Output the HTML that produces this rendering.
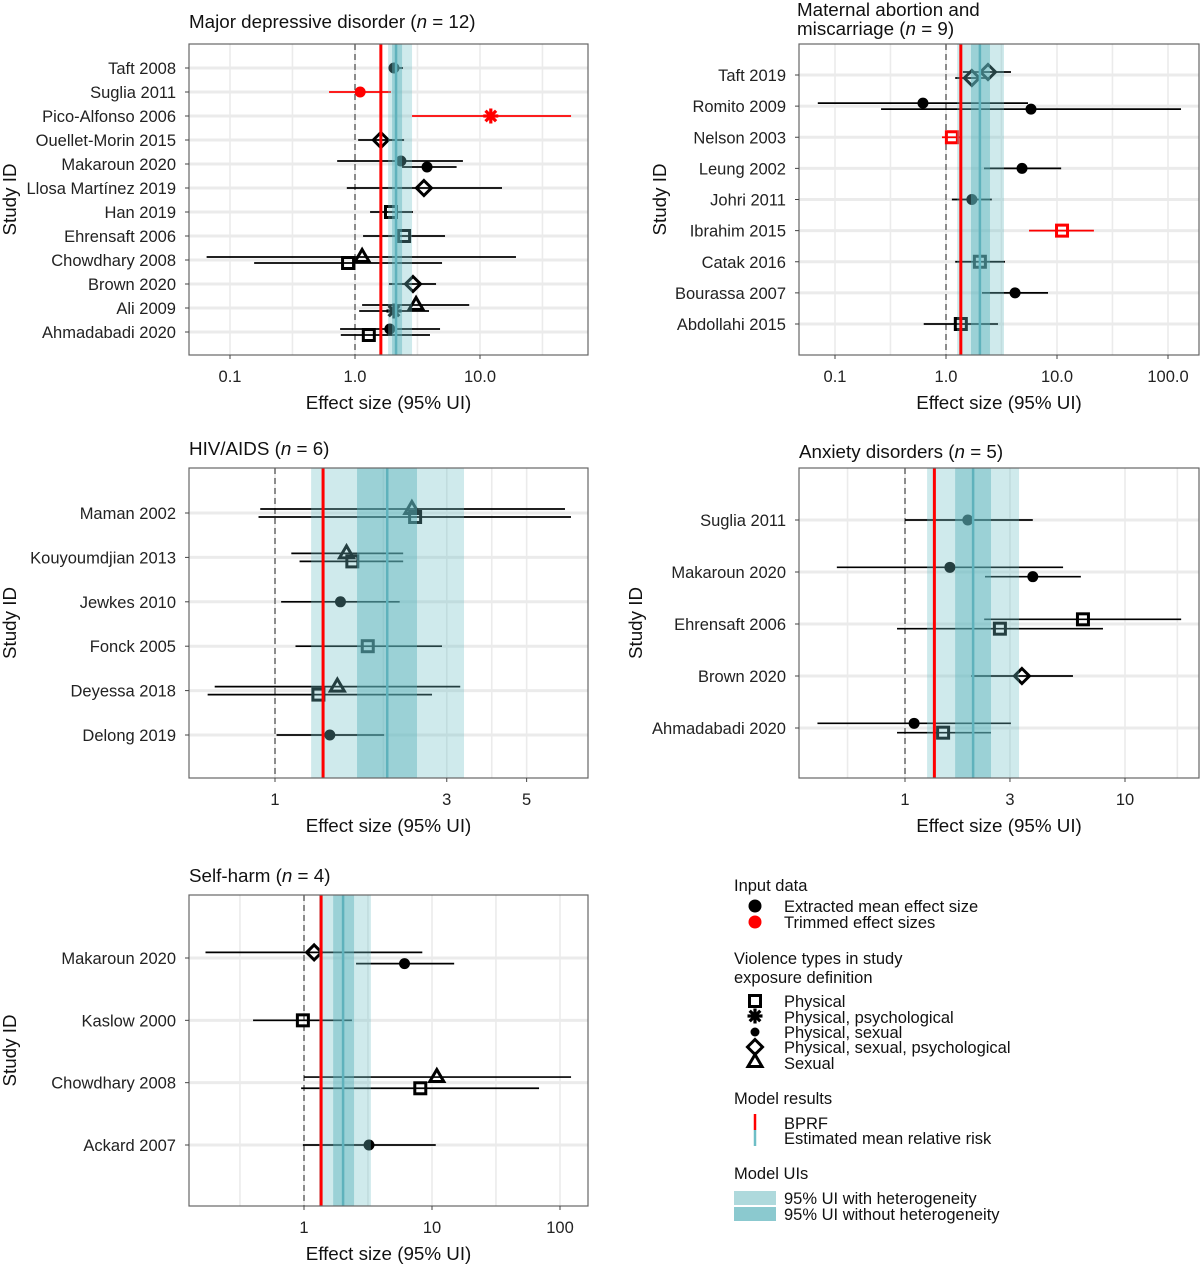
<!DOCTYPE html>
<html><head><meta charset="utf-8">
<style>
html,body{margin:0;padding:0;background:#fff;}
svg{display:block;font-family:"Liberation Sans","DejaVu Sans",sans-serif;}
</style></head>
<body>
<svg id="chart" width="1200" height="1265" viewBox="0 0 1200 1265" xmlns="http://www.w3.org/2000/svg"></svg>
<script>
// ---------- DATA ----------
// Major depressive disorder
const mddStudies = ["Taft 2008","Suglia 2011","Pico-Alfonso 2006","Ouellet-Morin 2015","Makaroun 2020","Llosa Martínez 2019","Han 2019","Ehrensaft 2006","Chowdhary 2008","Brown 2020","Ali 2009","Ahmadabadi 2020"];
const mddRow   = [0,1,2,3,4,4,5,6,7,8,8,9,10,10,11,11];
const mddEst   = [2.05,1.10,12.2,1.61,2.33,3.77,3.56,1.94,2.47,1.14,0.88,2.91,3.08,2.05,1.90,1.29];
const mddLo    = [1.87,0.62,2.86,1.06,0.72,2.38,0.86,1.32,1.16,0.065,0.156,1.87,1.14,1.08,0.76,0.77];
const mddHi    = [2.42,1.94,53.5,2.47,7.3,6.5,15.0,2.91,5.25,19.4,4.97,4.45,8.2,3.91,4.79,3.98];
const mddShape = ["circ","circ","ast","dia","circ","circ","dia","sq","sq","tri","sq","dia","tri","ast","circ","sq"];
const mddTrim  = [0,1,1,0,0,0,0,0,0,0,0,0,0,0,0,0];
const mddModel = [1.61,2.13,1.98,2.38,1.84,2.86]; // bprf, mean, UI w/o het lo/hi, UI with het lo/hi

// Maternal abortion and miscarriage
const matStudies = ["Taft 2019","Romito 2009","Nelson 2003","Leung 2002","Johri 2011","Ibrahim 2015","Catak 2016","Bourassa 2007","Abdollahi 2015"];
const matRow   = [0,0,1,1,2,3,4,5,6,7,8];
const matEst   = [2.39,1.71,0.62,5.83,1.13,4.84,1.71,11.1,2.02,4.19,1.36];
const matLo    = [1.42,1.21,0.070,0.26,0.92,2.20,1.13,5.6,1.21,2.11,0.63];
const matHi    = [3.85,2.34,5.48,131,1.39,10.9,2.59,21.5,3.40,8.3,2.94];
const matShape = ["dia","dia","circ","circ","sq","circ","circ","sq","sq","circ","sq"];
const matTrim  = [0,0,0,0,1,0,0,1,0,0,0];
const matModel = [1.36,2.02,1.68,2.49,1.26,3.33];

// HIV/AIDS
const hivStudies = ["Maman 2002","Kouyoumdjian 2013","Jewkes 2010","Fonck 2005","Deyessa 2018","Delong 2019"];
const hivRow   = [0,0,1,1,2,3,4,4,5];
const hivEst   = [2.40,2.45,1.58,1.64,1.52,1.81,1.49,1.32,1.42];
const hivLo    = [0.91,0.90,1.11,1.17,1.04,1.14,0.68,0.65,1.01];
const hivHi    = [6.39,6.64,2.27,2.27,2.22,2.91,3.27,2.73,2.01];
const hivShape = ["tri","sq","tri","sq","circ","sq","tri","sq","circ"];
const hivTrim  = [0,0,0,0,0,0,0,0,0];
const hivModel = [1.36,2.05,1.69,2.48,1.26,3.35];

// Anxiety disorders
const anxStudies = ["Suglia 2011","Makaroun 2020","Ehrensaft 2006","Brown 2020","Ahmadabadi 2020"];
const anxRow   = [0,1,1,2,2,3,4,4];
const anxEst   = [1.93,1.60,3.81,6.44,2.70,3.40,1.10,1.49];
const anxLo    = [1.00,0.49,2.31,2.29,0.92,2.00,0.40,0.92];
const anxHi    = [3.81,5.23,6.3,18.0,7.94,5.8,3.03,2.46];
const anxShape = ["circ","circ","circ","sq","sq","dia","circ","sq"];
const anxTrim  = [0,0,0,0,0,0,0,0];
const anxModel = [1.36,2.04,1.69,2.46,1.26,3.30];

// Self-harm
const shStudies = ["Makaroun 2020","Kaslow 2000","Chowdhary 2008","Ackard 2007"];
const shRow   = [0,0,1,2,2,3];
const shEst   = [1.20,6.1,0.98,10.9,8.1,3.22];
const shLo    = [0.17,2.55,0.40,1.00,0.95,0.98];
const shHi    = [8.4,14.9,2.37,122,68.6,10.7];
const shShape = ["dia","circ","sq","tri","sq","circ"];
const shTrim  = [0,0,0,0,0,0];
const shModel = [1.36,2.02,1.69,2.46,1.31,3.33];

// tick labels
const mddTicks = ["0.1","1.0","10.0"];
const matTicks = ["0.1","1.0","10.0","100.0"];
const hivTicks = ["1","3","5"];
const anxTicks = ["1","3","10"];
const shTicks  = ["1","10","100"];

// ---------- DRAWING ----------
const NS="http://www.w3.org/2000/svg";
const svg=document.getElementById('chart');
function el(tag,attrs,parent){const e=document.createElementNS(NS,tag);for(const k in attrs)e.setAttribute(k,attrs[k]);(parent||svg).appendChild(e);return e;}
const FS=16.5, TFS=18.8;

const panels=[
 {key:"mdd",studies:mddStudies,row:mddRow,est:mddEst,lo:mddLo,hi:mddHi,shape:mddShape,trim:mddTrim,model:mddModel,ticks:mddTicks,
  x0:189,x1:588,y0:44,y1:355,ref:355,ppd:125,r0:68,r1:332,grid:[0.1,0.316,1,3.16,10,31.6],
  title:[["Major depressive disorder (","n"," = 12)"]],tx:189,ty:28,sid:16},
 {key:"mat",studies:matStudies,row:matRow,est:matEst,lo:matLo,hi:matHi,shape:matShape,trim:matTrim,model:matModel,ticks:matTicks,
  x0:799,x1:1199,y0:44,y1:355,ref:946,ppd:111,r0:75,r1:324,grid:[0.1,0.316,1,3.16,10,31.6,100],
  title:[["Maternal abortion and"],["miscarriage (","n"," = 9)"]],tx:797,ty:16,sid:666},
 {key:"hiv",studies:hivStudies,row:hivRow,est:hivEst,lo:hivLo,hi:hivHi,shape:hivShape,trim:hivTrim,model:hivModel,ticks:hivTicks,
  x0:189,x1:588,y0:468,y1:778,ref:275,ppd:360,r0:513,r1:735,grid:[1,2,3,4,5],
  title:[["HIV/AIDS (","n"," = 6)"]],tx:189,ty:455,sid:16},
 {key:"anx",studies:anxStudies,row:anxRow,est:anxEst,lo:anxLo,hi:anxHi,shape:anxShape,trim:anxTrim,model:anxModel,ticks:anxTicks,
  x0:799,x1:1199,y0:468,y1:778,ref:905,ppd:220,r0:520,r1:728,grid:[0.548,1,3,10,17.3],
  title:[["Anxiety disorders (","n"," = 5)"]],tx:799,ty:458,sid:642},
 {key:"sh",studies:shStudies,row:shRow,est:shEst,lo:shLo,hi:shHi,shape:shShape,trim:shTrim,model:shModel,ticks:shTicks,
  x0:189,x1:588,y0:895,y1:1206,ref:304,ppd:128,r0:958,r1:1145,grid:[0.316,1,3.16,10,31.6,100],
  title:[["Self-harm (","n"," = 4)"]],tx:189,ty:882,sid:16}
];

function drawShape(g,shape,x,y,color,name){
  let e;
  if(shape==="circ"){e=el('circle',{cx:x,cy:y,r:5.5,fill:color},g);}
  else if(shape==="sq"){e=el('rect',{x:x-5.5,y:y-5.5,width:11,height:11,fill:"none",stroke:color,"stroke-width":3},g);}
  else if(shape==="dia"){e=el('polygon',{points:`${x},${y-7.5} ${x+7.5},${y} ${x},${y+7.5} ${x-7.5},${y}`,fill:"none",stroke:color,"stroke-width":3},g);}
  else if(shape==="tri"){e=el('polygon',{points:`${x},${y-7.5} ${x+7},${y+4.5} ${x-7},${y+4.5}`,fill:"none",stroke:color,"stroke-width":3},g);}
  else {e=el('g',{},g);for(let a=0;a<180;a+=45){const r=a*Math.PI/180;el('line',{x1:x-7.5*Math.cos(r),y1:y-7.5*Math.sin(r),x2:x+7.5*Math.cos(r),y2:y+7.5*Math.sin(r),stroke:color,"stroke-width":3.2},e);}}
  
  
  return e;
}

panels.forEach(p=>{
  const xs=v=>p.ref+Math.log10(v)*p.ppd;
  const n=p.studies.length;
  const step=n>1?(p.r1-p.r0)/(n-1):0;
  const ys=i=>p.r0+i*step;
  const g=el('g',{});
  
  
  const clipId='clip-'+p.key;
  const cp=el('clipPath',{id:clipId},g);el('rect',{x:p.x0,y:p.y0,width:p.x1-p.x0,height:p.y1-p.y0},cp);
  p.grid.forEach(v=>{const l=el('line',{x1:xs(v),x2:xs(v),y1:p.y0,y2:p.y1,stroke:"#ebebeb","stroke-width":1.6},g);
    });
  p.studies.forEach((s,i)=>{const l=el('line',{x1:p.x0,x2:p.x1,y1:ys(i),y2:ys(i),stroke:"#ebebeb","stroke-width":3},g);
    });
  const nl=el('line',{x1:xs(1),x2:xs(1),y1:p.y0,y2:p.y1,stroke:"#555","stroke-width":1.3,"stroke-dasharray":"6,4"},g);
  
  const pg=el('g',{"clip-path":`url(#${clipId})`},g);
  const cnt={},seen={};
  p.row.forEach(r=>cnt[r]=(cnt[r]||0)+1);
  const off=Math.max(3,step*0.09);
  p.est.forEach((v,k)=>{
    const r=p.row[k];seen[r]=(seen[r]||0)+1;
    let dy=0;if(cnt[r]>1)dy=(seen[r]===1?-off:off);
    const y=ys(r)+dy;
    const col=p.trim[k]?"#ff0000":"#000";
    const ci=el('line',{x1:xs(p.lo[k]),x2:xs(p.hi[k]),y1:y,y2:y,stroke:col,"stroke-width":1.7},pg);
    
    drawShape(pg,p.shape[k],xs(v),y,col,'study-estimate');
  });
  const m=p.model;
  const lb=el('rect',{x:xs(m[4]),y:p.y0,width:xs(m[5])-xs(m[4]),height:p.y1-p.y0,fill:"rgb(110,190,198)","fill-opacity":0.33},g);
  
  const db=el('rect',{x:xs(m[2]),y:p.y0,width:xs(m[3])-xs(m[2]),height:p.y1-p.y0,fill:"rgb(90,180,188)","fill-opacity":0.45},g);
  
  const ml=el('line',{x1:xs(m[1]),x2:xs(m[1]),y1:p.y0,y2:p.y1,stroke:"rgb(95,178,188)","stroke-width":2.5},g);
  
  const bl=el('line',{x1:xs(m[0]),x2:xs(m[0]),y1:p.y0,y2:p.y1,stroke:"#ff0000","stroke-width":3},g);
  
  const fr=el('rect',{x:p.x0,y:p.y0,width:p.x1-p.x0,height:p.y1-p.y0,fill:"none",stroke:"#666","stroke-width":1.2},g);
  
  p.studies.forEach((s,i)=>{
    el('line',{x1:p.x0-4,x2:p.x0,y1:ys(i),y2:ys(i),stroke:"#444","stroke-width":1},g);
    const t=el('text',{x:p.x0-13,y:ys(i)+6,"text-anchor":"end","font-size":FS,fill:"#222"},g);t.textContent=s;
    
  });
  p.ticks.forEach(tl=>{const v=parseFloat(tl);const x=xs(v);
    el('line',{x1:x,x2:x,y1:p.y1,y2:p.y1+4,stroke:"#444","stroke-width":1},g);
    const t=el('text',{x:x,y:p.y1+27,"text-anchor":"middle","font-size":FS,fill:"#222"},g);t.textContent=tl;
    });
  const at=el('text',{x:(p.x0+p.x1)/2,y:p.y1+54,"text-anchor":"middle","font-size":TFS,fill:"#111"},g);at.textContent="Effect size (95% UI)";
  
  const yc=(p.y0+p.y1)/2;
  const yt=el('text',{x:p.sid,y:yc,"text-anchor":"middle","font-size":TFS,fill:"#111",transform:`rotate(-90 ${p.sid} ${yc})`},g);yt.textContent="Study ID";
  
  p.title.forEach((parts,li)=>{
    const t=el('text',{x:p.tx,y:p.ty+li*19,"font-size":TFS,fill:"#111"},g);
    parts.forEach((s,j)=>{const ts=el('tspan',{},t);if(s==="n")ts.setAttribute('font-style','italic');ts.textContent=s;});
    
  });
});

// ---------- LEGEND ----------
const lg=el('g',{});


function ltxt(x,y,s,size,name){const t=el('text',{x:x,y:y,"font-size":size,fill:"#111"},lg);t.textContent=s;return t;}
const LF=16.5;
ltxt(734,891,"Input data",LF,"legend-heading");
el('circle',{cx:755,cy:906,r:6.5,fill:"#000"},lg);ltxt(784,912,"Extracted mean effect size",LF,"legend-entry");
el('circle',{cx:755,cy:922,r:6.5,fill:"#ff0000"},lg);ltxt(784,928,"Trimmed effect sizes",LF,"legend-entry");
ltxt(734,964,"Violence types in study",LF,"legend-heading");
ltxt(734,983,"exposure definition",LF,"legend-heading");
drawShape(lg,"sq",755,1001,"#000","legend-square");ltxt(784,1007,"Physical",LF,"legend-entry");
drawShape(lg,"ast",755,1016,"#000","legend-asterisk");ltxt(784,1023,"Physical, psychological",LF,"legend-entry");
el('circle',{cx:755,cy:1032,r:4.5,fill:"#000"},lg);ltxt(784,1038,"Physical, sexual",LF,"legend-entry");
drawShape(lg,"dia",755,1047,"#000","legend-diamond");ltxt(784,1053,"Physical, sexual, psychological",LF,"legend-entry");
drawShape(lg,"tri",755,1062,"#000","legend-triangle");ltxt(784,1069,"Sexual",LF,"legend-entry");
ltxt(734,1104,"Model results",LF,"legend-heading");
el('line',{x1:755,x2:755,y1:1114,y2:1130,stroke:"#ff0000","stroke-width":2.5},lg);ltxt(784,1129,"BPRF",LF,"legend-entry");
el('line',{x1:755,x2:755,y1:1130,y2:1146,stroke:"rgb(110,190,198)","stroke-width":2.5},lg);ltxt(784,1144,"Estimated mean relative risk",LF,"legend-entry");
ltxt(734,1179,"Model UIs",LF,"legend-heading");
el('rect',{x:734,y:1191,width:42,height:14,fill:"#aed9dc"},lg);ltxt(784,1204,"95% UI with heterogeneity",LF,"legend-entry");
el('rect',{x:734,y:1207,width:42,height:14,fill:"#8bc9cf"},lg);ltxt(784,1220,"95% UI without heterogeneity",LF,"legend-entry");
</script>
</body></html>
